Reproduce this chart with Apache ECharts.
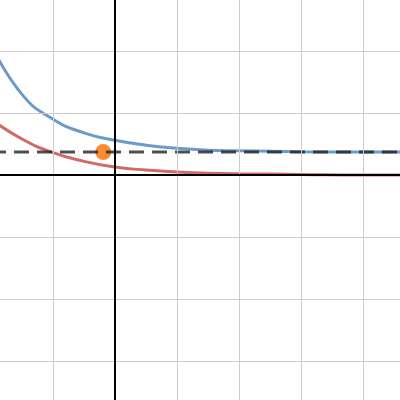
<!DOCTYPE html>
<html><head><meta charset="utf-8">
<script src="https://cdn.jsdelivr.net/npm/echarts@6/dist/echarts.min.js"></script>
<style>html,body{margin:0;padding:0;background:#fff}#main{width:400px;height:400px}</style>
</head><body><div id="main"></div>
<script>
// values
const xs = [-2, -1.5, -1, -0.5, 0, 0.5, 1, 1.5, 2, 3, 4, 5];
const blueY = [2.1, 1.3, 0.9, 0.68, 0.56, 0.48, 0.43, 0.4, 0.39, 0.375, 0.37, 0.37];
const redY = [0.9, 0.58, 0.36, 0.22, 0.13, 0.08, 0.05, 0.03, 0.02, 0.01, 0, 0];
const levelY = 0.37;
const pointXY = [-0.19, 0.37];
const gridX = [-1, 1, 2, 3, 4];
const gridY = [-3, -2, -1, 1, 2];

const pairs = ys => xs.map((x, i) => [x, ys[i]]);
const chart = echarts.init(document.getElementById('main'));
chart.setOption({
  animation: false,
  grid: {left: 0, right: 0, top: 0, bottom: 0},
  xAxis: {type: 'value', min: -115 / 62, max: 285 / 62, show: false},
  yAxis: {type: 'value', min: -225 / 62, max: 175 / 62, show: false},
  series: [
    {
      type: 'line', data: [], silent: true,
      markLine: {
        symbol: 'none', silent: true, label: {show: false},
        lineStyle: {color: '#ccc', width: 1, type: 'solid'},
        data: gridX.map(v => ({xAxis: v})).concat(gridY.map(v => ({yAxis: v})))
      }
    },
    {
      type: 'line', data: [], silent: true,
      markLine: {
        symbol: 'none', silent: true, label: {show: false},
        lineStyle: {color: '#000', width: 2, type: 'solid'},
        data: [{xAxis: 0}, {yAxis: 0}]
      }
    },
    {type: 'line', data: pairs(redY), smooth: true, showSymbol: false,
      lineStyle: {color: '#c74440', width: 3, opacity: 0.8}},
    {type: 'line', data: pairs(blueY), smooth: true, showSymbol: false,
      lineStyle: {color: '#2d70b3', width: 3, opacity: 0.7}},
    {type: 'line', data: [[-2, levelY], [5, levelY]], showSymbol: false,
      lineStyle: {color: '#222', width: 3, type: [15, 8], opacity: 0.8}},
    {type: 'scatter', data: [pointXY], symbolSize: 16,
      itemStyle: {color: '#fa7e19', opacity: 0.9}}
  ]
});
</script></body></html>
